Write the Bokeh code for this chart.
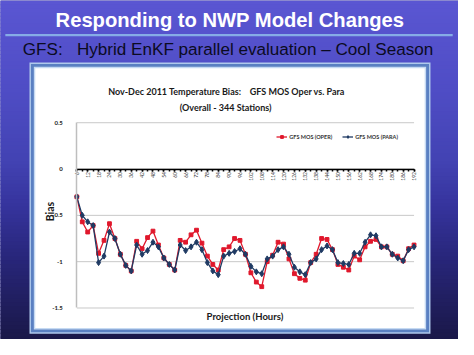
from math import pi
from bokeh.plotting import figure
from bokeh.models import (Range1d, LinearAxis, FixedTicker, BoxAnnotation, Label,
                          Legend, LegendItem)
from bokeh.embed import file_html
from bokeh.resources import INLINE

# ---------------- data ----------------
hours = [6, 9, 12, 15, 18, 21, 24, 27, 30, 33,
         36, 39, 42, 45, 48, 51, 54, 57, 60, 63,
         66, 69, 72, 75, 78, 81, 84, 87, 90, 93,
         96, 99, 102, 105, 108, 111, 114, 117, 120, 123,
         126, 129, 132, 135, 138, 141, 144, 147, 150, 153,
         156, 159, 162, 165, 168, 171, 174, 177, 180, 183,
         186, 189, 192]
oper = [-0.30, -0.57, -0.68, -0.61, -0.91, -0.77, -0.59, -0.75, -0.92, -1.04,
        -1.10, -0.78, -0.86, -0.74, -0.67, -0.82, -0.96, -1.03, -1.09, -0.77,
        -0.79, -0.71, -0.66, -0.80, -0.94, -1.03, -1.09, -0.87, -0.84, -0.75,
        -0.77, -0.92, -1.12, -1.22, -1.27, -1.00, -0.93, -0.79, -0.81, -0.97,
        -1.13, -1.18, -1.20, -1.01, -0.92, -0.75, -0.76, -0.87, -1.03, -1.06,
        -1.09, -0.94, -0.98, -0.84, -0.78, -0.76, -0.84, -0.84, -0.92, -0.94,
        -0.99, -0.86, -0.82]
para = [-0.30, -0.50, -0.57, -0.61, -1.01, -0.94, -0.68, -0.75, -0.92, -1.04,
        -1.10, -0.82, -0.92, -0.88, -0.79, -0.84, -0.96, -1.03, -1.09, -0.82,
        -0.88, -0.84, -0.79, -0.87, -1.01, -1.10, -1.14, -0.94, -0.91, -0.89,
        -0.86, -0.92, -1.05, -1.11, -1.13, -0.97, -0.94, -0.87, -0.84, -0.92,
        -1.06, -1.11, -1.14, -1.01, -0.97, -0.87, -0.83, -0.87, -1.01, -1.02,
        -1.03, -0.91, -0.91, -0.79, -0.71, -0.72, -0.84, -0.84, -0.92, -0.96,
        -0.99, -0.87, -0.84]
x_tick_hours = [6, 12, 18, 24, 30, 36, 42, 48, 54, 60, 66, 72, 78, 84, 90, 96,
                102, 108, 114, 120, 126, 132, 138, 144, 150, 156, 162, 168,
                174, 180, 186, 192]
x_tick_labels = ["6", "12", "18", "24", "30", "36", "42", "48", "54", "60", "66",
                 "72", "78", "84", "90", "96", "102", "108", "114", "120", "126",
                 "132", "138", "144", "150", "156", "162", "168", "174", "180",
                 "186", "192"]
y_ticks = [0.5, 0, -0.5, -1, -1.5]
y_tick_labels = ["0.5", "0", "-0.5", "-1", "-1.5"]
series_names = ["GFS MOS (OPER)", "GFS MOS (PARA)"]

# ---------------- layout ----------------
W, H = 458, 339                 # canvas; the slide (474x355) is drawn scaled into it
RW, RH = 474, 355
KX, KY = W / RW, H / RH
XMIN, XMAX = hours[0], hours[-1]
YMIN, YMAX = y_ticks[-1], y_ticks[0]
PL, PT, PR, PB = 79, 128, 428, 322   # plot area edges in slide px


def dx(px):   # slide px -> data x
    return XMIN + (px - PL) * (XMAX - XMIN) / (PR - PL)


def dy(py):   # slide py -> data y
    return YMAX - (py - PT) * (YMAX - YMIN) / (PB - PT)


RED = "#E0182C"
BLUE = "#1F3A63"

p = figure(width=W, height=H, output_backend="svg", toolbar_location=None,
           x_range=Range1d(dx(0), dx(RW)), y_range=Range1d(dy(RH), dy(0)),
           x_axis_location=None, y_axis_location=None,
           min_border=0, min_border_left=0, min_border_right=0,
           min_border_top=0, min_border_bottom=0)
p.outline_line_color = None
p.background_fill_color = "#3A389E"
p.border_fill_color = "#3A389E"
p.xgrid.visible = False
p.ygrid.visible = False
p.title.visible = False


def box(l, t, r, b, color):
    p.add_layout(BoxAnnotation(left=dx(l), right=dx(r), top=dy(t), bottom=dy(b),
                               fill_color=color, fill_alpha=1.0,
                               line_color=None, level="image"))


# background gradient (slide)
stops = [(0, (90, 86, 210)), (100, (78, 76, 196)), (170, (66, 66, 178)),
         (220, (52, 50, 154)), (270, (40, 38, 122)), (355, (26, 24, 72))]


def grad(y):
    for (y0, c0), (y1, c1) in zip(stops[:-1], stops[1:]):
        if y0 <= y <= y1:
            t = (y - y0) / (y1 - y0)
            return "#%02x%02x%02x" % tuple(int(round(a + (b - a) * t)) for a, b in zip(c0, c1))
    return "#%02x%02x%02x" % stops[-1][1]


step = 4
for y in range(0, RH + 1, step):
    box(-2, y, RW + 2, y + step + 1, grad(y + step / 2))

# title rule
box(5, 35, 468, 37.5, "#86ACE6")

# chart frame
box(30, 65, 445, 349, "#AFC9EC")
box(31.5, 66.5, 443.5, 347.5, "#5A80C2")
box(34.5, 69.5, 440.5, 344.5, "#C6DAF2")
box(36, 71, 439, 343, "white")

# horizontal grid lines (from the y ticks)
p.segment(x0=[XMIN] * len(y_ticks), x1=[XMAX] * len(y_ticks), y0=y_ticks, y1=y_ticks,
          line_color="#C8C8C8", line_width=1)


# ---------------- texts ----------------
def label(px, py, text, size, color, font="Lato", style="bold", angle=0.0):
    p.add_layout(Label(x=dx(px), y=dy(py), text=text, text_align="center",
                       text_baseline="middle", text_font=font,
                       text_font_style=style, text_font_size=size,
                       text_color=color, angle=angle))


label(237.5, 20, "Responding to NWP Model Changes", "20.2px", "white",
      font="Liberation Sans")
label(235.5, 51, "GFS:\u00a0\u00a0\u00a0Hybrid EnKF parallel evaluation \u2013 Cool Season",
      "17.1px", "#0B0B22", font="Liberation Sans", style="normal")
label(234, 95.5, "Nov-Dec 2011 Temperature Bias:\u00a0\u00a0\u00a0\u00a0GFS MOS Oper vs. Para",
      "9px", "#1A1A1A")
label(233, 112, "(Overall - 344 Stations)", "9px", "#1A1A1A")
label(51, 221, "Bias", "10.5px", "#1A1A1A", angle=pi / 2)
label(253, 331, "Projection (Hours)", "9.5px", "#1A1A1A")

# ---------------- axes ----------------
yax = LinearAxis(fixed_location=XMIN, bounds=(YMIN, YMAX),
                 ticker=FixedTicker(ticks=y_ticks),
                 major_label_overrides={t: s for t, s in zip(y_ticks, y_tick_labels)},
                 axis_line_color="#BEBEBE", axis_line_width=1.5,
                 major_tick_line_color=None, minor_tick_line_color=None,
                 major_label_standoff=8,
                 major_label_text_font="Lato", major_label_text_font_style="bold",
                 major_label_text_font_size="6px", major_label_text_color="#222222")
p.add_layout(yax, "left")

xax = LinearAxis(fixed_location=0, bounds=(XMIN, XMAX),
                 ticker=FixedTicker(ticks=x_tick_hours, minor_ticks=hours),
                 major_label_overrides={h: s for h, s in zip(x_tick_hours, x_tick_labels)},
                 major_label_orientation=pi / 2,
                 axis_line_color="black", axis_line_width=1.5,
                 major_tick_line_color="black", major_tick_line_width=1.5,
                 major_tick_in=0, major_tick_out=2,
                 minor_tick_line_color="black", minor_tick_line_width=1.5,
                 minor_tick_in=0, minor_tick_out=2,
                 major_label_standoff=1,
                 major_label_text_font="Lato",
                 major_label_text_font_size="5px",
                 major_label_text_color="#404040")
p.add_layout(xax, "below")

# ---------------- series ----------------
r1l = p.line(hours, oper, line_color=RED, line_width=1.3)
r1s = p.scatter(hours, oper, marker="square", size=3.8, fill_color=RED, line_color=RED)
r2l = p.line(hours, para, line_color=BLUE, line_width=1.3)
r2s = p.scatter(hours, para, marker="diamond", size=6, fill_color=BLUE, line_color=BLUE)

legend = Legend(items=[LegendItem(label=series_names[0], renderers=[r1l, r1s]),
                       LegendItem(label=series_names[1], renderers=[r2l, r2s])],
                orientation="horizontal",
                location=(286 * KX, H - 147 * KY),
                glyph_width=11, glyph_height=7, label_height=7,
                label_standoff=2, spacing=10, padding=0, margin=0,
                border_line_color=None, background_fill_alpha=0,
                label_text_font="Lato", label_text_font_style="bold",
                label_text_font_size="5.5px", label_text_color="#333333")
p.add_layout(legend)

open("out.html", "w").write(file_html(p, INLINE))
